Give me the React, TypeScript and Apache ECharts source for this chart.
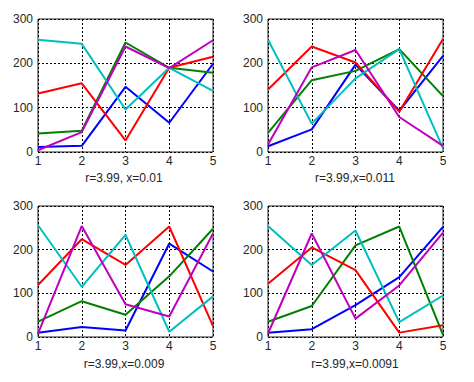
import React, { useEffect, useRef } from "react";
import * as echarts from "echarts";

const xValues = [1, 2, 3, 4, 5];
const yTicks = [0, 100, 200, 300];
const titles = ["r=3.99, x=0.01", "r=3.99,x=0.011", "r=3.99,x=0.009", "r=3.99,x=0.0091"];
const seriesNames = ["blue", "green", "red", "cyan", "magenta"];
const seriesColors = ["#0000ff", "#008000", "#ff0000", "#00bfbf", "#bf00bf"];

// subplot 1: r=3.99, x=0.01
const p1Blue = [11, 14, 147, 66, 199];
const p1Green = [42, 48, 247, 190, 179];
const p1Red = [132, 155, 26, 190, 215];
const p1Cyan = [253, 244, 96, 190, 138];
const p1Magenta = [4, 45, 238, 189, 252];

// subplot 2: r=3.99, x=0.011
const p2Blue = [13, 51, 197, 93, 217];
const p2Green = [43, 162, 183, 232, 126];
const p2Red = [141, 238, 202, 91, 255];
const p2Cyan = [253, 64, 166, 232, 8];
const p2Magenta = [17, 191, 230, 79, 14];

// subplot 3: r=3.99, x=0.009
const p3Blue = [10, 23, 15, 214, 150];
const p3Green = [35, 82, 51, 139, 248];
const p3Red = [119, 224, 165, 253, 25];
const p3Cyan = [256, 115, 234, 12, 93];
const p3Magenta = [8, 254, 75, 47, 237];

// subplot 4: r=3.99, x=0.0091
const p4Blue = [10, 18, 73, 137, 252];
const p4Green = [35, 71, 210, 253, 5];
const p4Red = [122, 205, 153, 10, 27];
const p4Cyan = [254, 165, 244, 34, 95];
const p4Magenta = [8, 237, 42, 118, 239];

const panels = [
  [p1Blue, p1Green, p1Red, p1Cyan, p1Magenta],
  [p2Blue, p2Green, p2Red, p2Cyan, p2Magenta],
  [p3Blue, p3Green, p3Red, p3Cyan, p3Magenta],
  [p4Blue, p4Green, p4Red, p4Cyan, p4Magenta],
];

const gridBoxes = [
  { left: 38, top: 19, width: 175, height: 133 },
  { left: 268, top: 19, width: 175, height: 133 },
  { left: 38, top: 206, width: 175, height: 131 },
  { left: 268, top: 206, width: 175, height: 131 },
];

const titlePos = [
  [124, 178],
  [355, 178],
  [124, 364],
  [355, 364],
];

const FONT = "Liberation Sans, Arial, sans-serif";
const TXT = "#262626";

export default function App() {
  const ref = useRef<HTMLDivElement>(null);
  useEffect(() => {
    if (!ref.current) return;
    const chart = echarts.init(ref.current, undefined, { renderer: "svg" });
    const grid: any[] = [];
    const xAxis: any[] = [];
    const yAxis: any[] = [];
    const series: any[] = [];
    const graphic: any[] = [];
    panels.forEach((panel, i) => {
      grid.push({ ...gridBoxes[i], show: true, borderColor: "#222", borderWidth: 1, backgroundColor: "#fff" });
      xAxis.push({
        type: "value",
        gridIndex: i,
        min: 1,
        max: 5,
        interval: 1,
        axisLine: { show: false },
        axisTick: { show: false },
        axisLabel: { color: TXT, fontSize: 12, fontFamily: FONT, margin: 3 },
        splitLine: { show: true, lineStyle: { color: "#000", type: [2, 2], width: 1 } },
      });
      yAxis.push({
        type: "value",
        gridIndex: i,
        min: yTicks[0],
        max: yTicks[yTicks.length - 1],
        interval: 100,
        axisLine: { show: false },
        axisTick: { show: false },
        axisLabel: { color: TXT, fontSize: 12, fontFamily: FONT, margin: 5 },
        splitLine: { show: true, lineStyle: { color: "#000", type: [2, 2], width: 1 } },
      });
      panel.forEach((vals, k) => {
        series.push({
          type: "line",
          name: seriesNames[k],
          xAxisIndex: i,
          yAxisIndex: i,
          data: xValues.map((x, j) => [x, vals[j]]),
          showSymbol: false,
          symbol: "none",
          lineStyle: { color: seriesColors[k], width: 2 },
          itemStyle: { color: seriesColors[k] },
          z: 3,
        });
      });
      graphic.push({
        type: "text",
        x: titlePos[i][0],
        y: titlePos[i][1],
        style: {
          text: titles[i],
          textAlign: "center",
          textVerticalAlign: "middle",
          fill: TXT,
          font: `12px ${FONT}`,
        },
      });
    });
    chart.setOption({
      animation: false,
      backgroundColor: "#fff",
      grid,
      xAxis,
      yAxis,
      series,
      graphic,
    });
    return () => chart.dispose();
  }, []);
  return (
    <div
      ref={ref}
      style={{ position: "absolute", left: 0, top: 0, width: 474, height: 382 }}
    />
  );
}
